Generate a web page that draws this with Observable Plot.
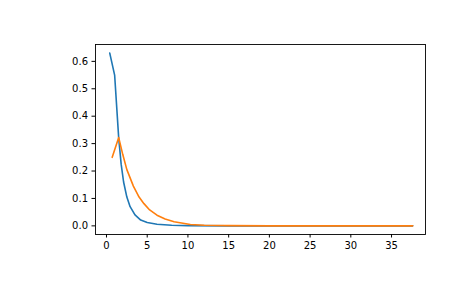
<!DOCTYPE html>
<html>
<head>
<meta charset="utf-8">
<script src="https://cdn.jsdelivr.net/npm/d3@7"></script>
<script src="https://cdn.jsdelivr.net/npm/@observablehq/plot@0.6"></script>
<style>
  html, body { margin: 0; padding: 0; background: #fff; }
  #chart svg { display: block; }
</style>
</head>
<body>
<div id="chart"></div>
<script>
// Series A (blue)
const blueX = [0.4, 1.0, 1.5, 1.8, 2.1, 2.5, 2.9, 3.5, 4.2, 5.0, 6.2, 8.0, 10.0, 15.0, 20.0, 30.0, 37.6];
const blueY = [0.63, 0.55, 0.32, 0.225, 0.16, 0.105, 0.07, 0.04, 0.021, 0.012, 0.006, 0.002, 0.001, 0, 0, 0, 0];
// Series B (orange)
const orangeX = [0.7, 1.5, 2.0, 2.5, 3.3, 4.0, 4.6, 5.3, 6.2, 7.2, 8.3, 10.3, 12.0, 15.0, 20.0, 30.0, 37.6];
const orangeY = [0.25, 0.322, 0.26, 0.205, 0.145, 0.105, 0.081, 0.058, 0.039, 0.025, 0.015, 0.005, 0.002, 0.001, 0, 0, 0];
// Ticks
const xTicks = [0, 5, 10, 15, 20, 25, 30, 35];
const yTicks = [0.0, 0.1, 0.2, 0.3, 0.4, 0.5, 0.6];

const blue = blueX.map((x, i) => ({x, y: blueY[i]}));
const orange = orangeX.map((x, i) => ({x, y: orangeY[i]}));

const chart = Plot.plot({
  width: 474,
  height: 293,
  marginLeft: 95,
  marginRight: 49,
  marginTop: 44,
  marginBottom: 59,
  style: {fontFamily: "DejaVu Sans", fontSize: "10px", color: "#000", background: "#fff"},
  x: {domain: [-1.35, 39.17], ticks: xTicks, tickFormat: d => String(d), label: null},
  y: {domain: [-0.0315, 0.6615], ticks: yTicks, tickFormat: d => d.toFixed(1), label: null},
  marks: [
    Plot.axisX({ticks: xTicks, tickSize: 3.5, tickPadding: 4, label: null, tickFormat: d => String(d), stroke: "#000", strokeOpacity: 1}),
    Plot.axisY({ticks: yTicks, tickSize: 3.5, tickPadding: 4, label: null, tickFormat: d => d.toFixed(1), stroke: "#000", strokeOpacity: 1}),
    Plot.line(blue, {x: "x", y: "y", stroke: "#1f77b4", strokeWidth: 1.6}),
    Plot.line(orange, {x: "x", y: "y", stroke: "#ff7f0e", strokeWidth: 1.6}),
    Plot.frame({stroke: "#000", strokeWidth: 0.9})
  ]
});
document.getElementById("chart").appendChild(chart);
</script>
</body>
</html>
